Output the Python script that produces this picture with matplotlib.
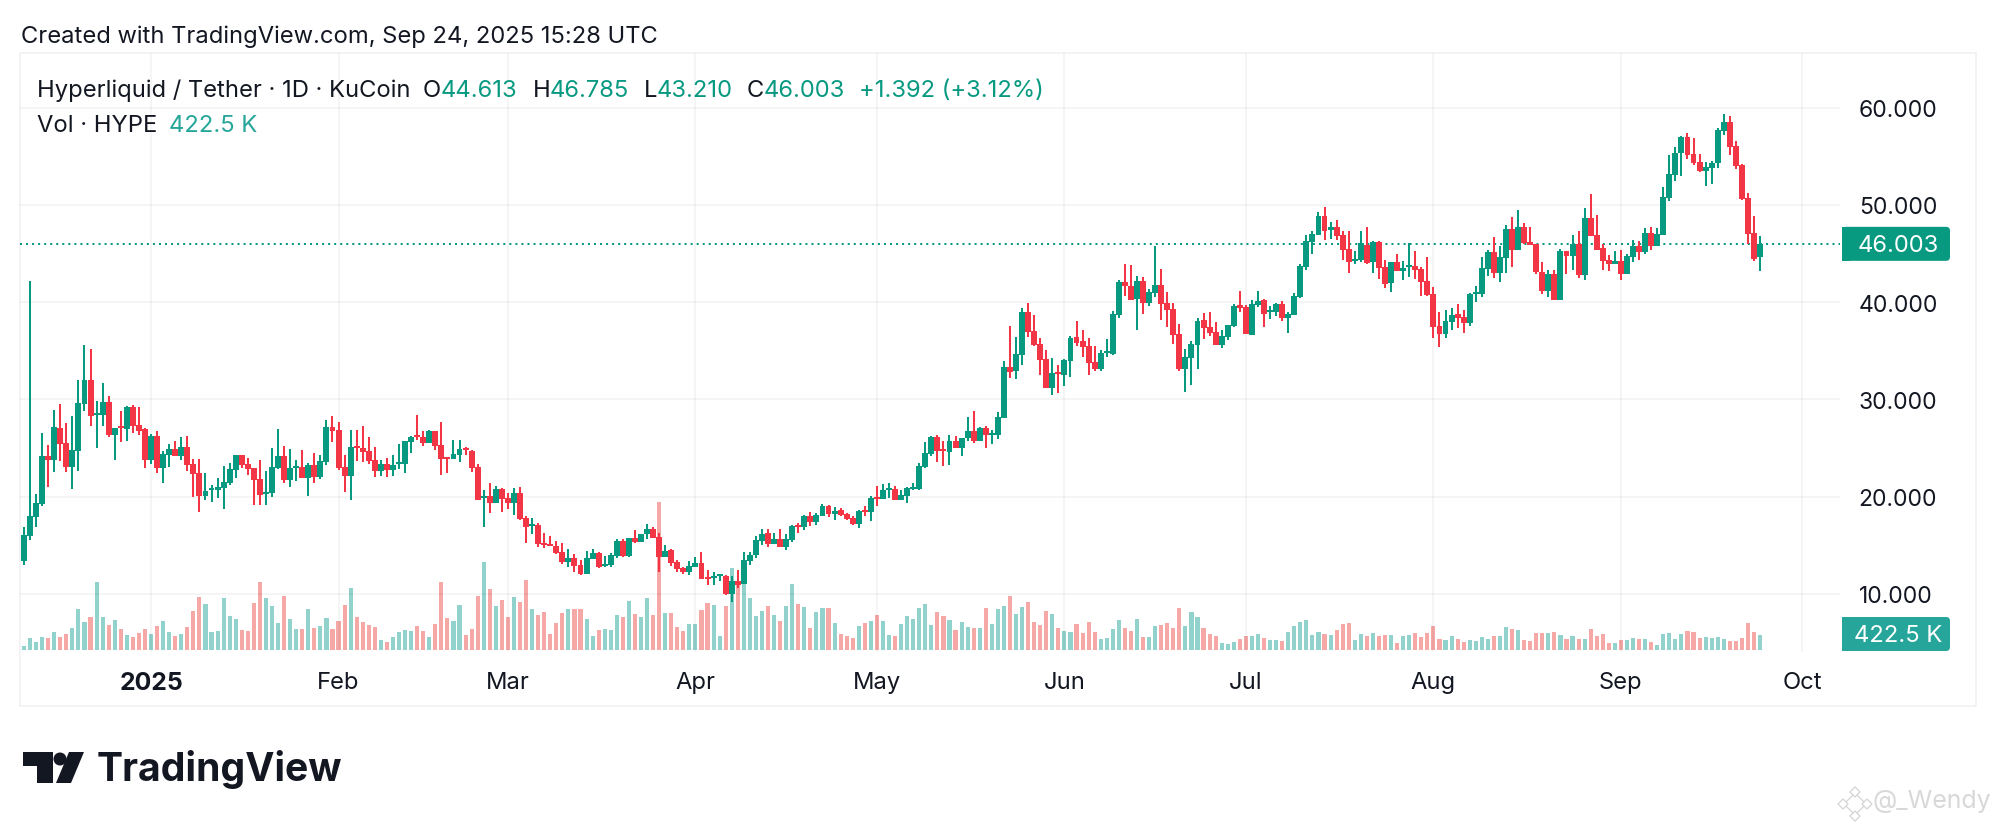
import numpy as np
import pandas as pd
import matplotlib
matplotlib.use("Agg")
import matplotlib.pyplot as plt
import matplotlib.dates as mdates
from matplotlib.patches import FancyBboxPatch, Polygon, Circle, Rectangle

opens = [13.43,16.0,17.95,19.3,24.2,23.8,27.1,25.5,23.05,24.7,
29.5,32.0,28.4,28.4,29.7,26.35,27.27,27.0,29.2,27.4,
26.96,23.8,26.2,22.95,24.3,24.9,24.2,25.1,23.35,22.45,
20.1,20.7,20.7,20.9,21.4,22.75,24.3,23.35,22.95,21.8,
20.3,20.4,22.95,24.2,21.7,22.95,23.05,21.9,23.25,22.0,
23.6,27.2,26.85,23.05,22.15,25.2,25.0,24.7,23.8,22.65,
23.35,22.75,23.35,23.35,25.6,26.35,26.15,25.5,26.75,25.3,
24.1,23.9,24.3,25.0,24.7,23.05,19.9,20.1,19.35,20.8,
19.85,19.35,20.4,17.8,17.0,17.1,15.25,15.15,14.95,14.3,
13.3,13.7,13.0,12.05,13.6,14.2,12.9,13.0,13.9,15.45,
13.9,15.75,15.35,16.15,16.7,15.85,13.8,14.5,13.3,12.65,
12.25,12.8,13.2,11.75,11.65,11.85,11.85,10.0,11.35,11.05,
13.4,14.0,15.45,16.3,15.15,15.65,14.85,15.55,17.1,16.9,
18.0,17.4,18.0,19.05,18.2,18.65,18.2,17.8,17.2,18.65,
18.45,19.95,19.75,20.7,20.8,19.65,20.1,20.8,20.8,23.05,
24.4,26.15,24.9,24.6,25.7,25.0,26.05,26.75,25.75,27.05,
26.35,26.35,28.1,33.35,32.9,34.55,39.0,37.05,35.7,34.15,
31.2,32.8,32.5,33.95,36.4,36.0,35.5,33.85,33.15,34.8,
34.65,38.7,42.1,41.65,40.35,42.2,39.9,40.95,41.75,39.9,
39.3,36.7,33.15,34.25,35.6,38.15,37.45,36.95,35.6,36.4,
37.55,39.7,39.5,36.6,39.7,40.2,39.0,39.0,39.8,38.4,
38.7,40.55,43.6,46.2,46.9,48.85,47.45,47.75,46.9,45.45,
44.25,44.35,45.9,44.15,46.2,43.6,42.0,44.15,43.2,43.6,
43.7,43.4,42.2,40.85,37.55,36.75,38.0,38.8,38.45,37.85,
40.85,40.85,43.4,45.15,43.0,44.55,47.55,45.35,47.75,46.2,
46.0,43.15,41.2,42.9,40.25,45.3,44.75,46.0,42.8,48.65,
46.9,45.55,44.35,43.95,44.25,42.9,44.65,45.8,45.15,47.1,
45.8,46.9,50.7,53.1,55.35,57.0,55.25,54.4,53.5,53.8,
54.3,57.6,58.5,56.05,54.1,50.7,47.1,44.613]

closes = [16.07,18.0,19.36,24.2,23.8,27.2,25.4,23.05,24.8,29.64,
32.0,28.3,28.6,29.7,26.35,27.07,27.1,29.2,27.27,26.75,
23.8,26.2,22.95,24.4,24.9,24.2,25.1,23.3,22.3,20.1,
20.6,20.9,21.0,21.5,22.85,24.3,23.25,22.85,21.7,20.2,
20.5,23.05,24.2,21.7,22.95,23.15,21.9,23.25,22.0,23.7,
27.2,26.75,22.95,22.15,25.1,25.0,24.6,23.65,22.65,23.35,
22.75,23.25,23.55,25.7,26.15,26.15,25.5,26.75,25.2,23.9,
23.9,24.4,24.9,24.8,22.95,19.65,20.1,19.35,20.8,19.75,
19.35,20.4,17.7,16.9,17.2,15.15,15.05,14.95,14.2,13.3,
13.7,12.9,12.05,13.7,14.2,12.8,13.1,14.0,15.45,13.9,
15.75,15.35,16.15,16.7,15.75,13.8,14.4,13.2,12.55,12.25,
12.9,13.2,11.55,11.55,11.85,12.05,10.0,11.35,10.9,13.5,
14.0,15.55,16.15,15.15,15.65,14.85,15.65,17.0,16.9,18.0,
17.4,18.1,19.05,18.2,18.55,18.1,17.7,17.2,18.55,18.45,
19.85,19.75,20.7,20.9,19.65,20.2,20.9,21.0,23.15,24.5,
26.15,24.7,24.7,25.7,25.0,26.05,26.75,25.75,27.05,26.35,
26.55,28.2,33.35,32.85,34.65,39.0,36.95,35.6,34.05,31.2,
32.7,32.6,34.05,36.3,35.8,35.4,33.75,33.15,34.8,35.0,
38.8,42.1,41.65,40.2,42.2,39.9,41.05,41.75,39.8,39.2,
36.6,33.15,34.35,35.7,38.05,37.35,36.85,35.6,36.5,37.65,
39.6,39.4,36.7,39.8,40.1,38.8,39.2,39.8,38.4,38.8,
40.6,43.7,46.3,47.0,48.85,47.3,47.75,46.8,45.35,44.15,
44.45,46.1,44.05,46.2,43.5,41.9,44.15,43.2,43.5,43.8,
43.3,42.1,40.75,37.45,36.75,38.05,38.7,38.4,37.85,40.85,
41.05,43.5,45.15,43.0,44.65,47.55,45.35,47.75,46.1,45.9,
43.1,41.2,42.9,40.25,45.3,44.75,46.0,42.8,48.65,46.8,
45.35,44.25,43.95,44.25,42.9,44.75,45.8,45.15,47.1,45.8,
47.0,50.8,53.2,55.35,57.0,55.15,54.3,53.5,53.9,54.3,
57.7,58.5,55.95,54.0,50.6,47.0,44.45,46.003]

highs = [16.9,42.2,20.25,26.6,25.3,28.9,29.5,27.6,28.3,32.0,
35.6,35.2,29.8,31.7,30.4,27.1,28.8,29.3,29.4,29.2,
27.07,26.45,26.75,24.7,25.4,25.7,26.1,26.2,23.9,23.9,
22.45,21.2,21.9,23.15,23.5,24.3,24.3,24.0,22.95,23.8,
22.65,25.0,27.0,25.2,24.9,23.8,24.8,23.5,24.5,24.3,
27.9,28.3,27.7,24.3,26.85,26.85,27.3,26.15,25.1,23.8,
24.0,24.3,25.4,25.7,26.25,28.4,26.75,26.85,26.75,27.7,
24.1,25.85,25.85,25.1,24.8,23.35,20.7,21.4,21.1,20.9,
20.4,20.9,21.0,18.0,17.8,17.3,16.3,16.0,15.45,15.25,
14.6,14.1,13.5,14.4,14.6,14.3,13.9,14.2,15.65,15.65,
15.75,16.6,16.15,17.2,16.9,16.3,15.05,14.6,13.5,12.8,
13.4,13.8,14.3,12.45,12.25,12.05,11.95,11.85,12.45,14.3,
14.3,16.0,16.7,16.7,16.3,16.7,16.15,17.1,17.3,18.1,
18.4,18.3,19.25,19.15,18.95,18.85,18.3,18.0,18.65,19.05,
20.1,21.1,21.3,21.4,21.1,20.7,21.0,21.4,23.45,25.6,
26.25,26.35,25.7,26.35,26.25,26.05,28.2,28.8,27.15,27.25,
26.85,28.7,33.95,37.55,36.4,39.4,39.9,38.7,36.3,35.1,
34.25,33.55,34.15,36.5,38.05,37.15,36.3,35.5,35.1,36.2,
39.1,42.3,43.9,43.8,42.7,42.6,41.35,45.8,43.4,41.05,
39.9,37.75,35.2,36.0,38.4,38.9,39.0,38.0,37.15,37.65,
39.8,41.15,39.7,40.2,41.15,40.3,39.6,39.9,40.1,39.0,
40.95,43.95,46.9,47.3,49.3,49.8,48.25,48.45,47.3,47.3,
45.25,47.3,47.75,46.3,46.3,44.35,44.15,44.95,44.25,46.1,
45.25,43.6,44.65,41.55,39.0,39.2,39.4,39.8,39.2,40.95,
41.65,44.65,45.35,46.7,45.8,47.95,48.75,49.5,48.15,47.75,
46.0,44.1,43.3,43.3,45.5,45.3,46.9,47.3,49.7,51.1,
48.95,46.0,44.85,45.3,45.35,44.95,46.4,46.3,47.6,47.75,
47.6,51.85,55.15,55.95,57.1,57.4,56.9,55.25,54.4,54.5,
57.9,59.35,59.15,56.55,54.2,51.2,48.85,46.785]

lows = [13.0,15.6,16.9,19.0,21.0,22.5,23.7,22.5,20.8,22.6,
28.8,27.3,25.0,27.3,26.1,23.8,25.6,25.7,26.55,26.35,
22.95,23.4,22.45,21.4,23.05,24.2,23.8,22.65,20.0,18.4,
19.65,19.45,19.9,18.75,21.2,21.9,22.95,22.25,19.15,19.15,
19.15,20.0,22.85,21.4,21.0,21.6,21.9,20.1,21.4,21.8,
23.25,25.6,22.75,20.5,19.65,23.65,23.55,23.35,22.05,22.15,
22.05,22.15,22.85,22.45,24.5,25.85,25.2,25.5,24.8,22.25,
22.45,23.9,23.55,24.3,22.55,19.65,16.9,18.3,19.35,18.45,
18.75,18.1,17.6,15.25,16.15,14.85,14.75,14.95,14.1,13.1,
12.8,12.25,11.95,12.05,13.6,12.7,12.8,12.8,13.7,13.8,
13.8,15.25,15.35,15.65,15.75,12.25,13.8,12.9,12.25,12.05,
11.95,12.8,11.55,10.95,10.95,11.35,9.9,9.2,10.6,11.05,
13.0,13.7,15.05,14.85,15.15,14.85,14.5,15.35,16.3,16.6,
17.0,17.1,18.0,17.9,17.6,18.0,17.6,17.1,16.8,18.0,
17.5,19.05,19.75,19.85,19.65,19.65,19.35,20.7,20.7,22.95,
24.2,23.55,23.15,23.25,25.0,24.2,25.75,25.5,25.75,25.0,
25.4,25.95,28.1,32.2,32.1,33.55,36.4,35.5,32.5,31.2,
30.45,30.65,31.4,32.3,35.5,34.35,32.5,32.95,32.95,34.35,
34.55,38.4,40.6,40.2,37.15,38.8,39.6,40.55,38.15,37.45,
35.7,32.95,30.75,31.5,33.15,36.2,36.5,35.6,35.3,36.1,
37.45,39.0,36.7,36.6,39.5,37.45,38.3,38.6,38.05,36.85,
38.7,40.45,43.3,45.0,46.9,46.4,46.5,46.4,44.35,43.0,
43.95,44.15,43.95,43.0,42.4,41.45,41.05,43.2,42.3,42.6,
42.4,40.65,40.65,36.3,35.4,36.3,37.15,37.35,36.85,37.55,
40.0,40.55,42.7,42.5,42.1,43.0,43.6,45.35,46.0,45.9,
42.9,40.85,40.55,40.25,40.25,42.9,43.3,42.5,42.3,46.8,
45.35,43.3,43.2,43.95,42.3,42.9,44.15,44.35,44.95,45.35,
45.8,46.9,50.4,52.45,53.0,54.7,54.1,53.4,51.95,52.15,
53.8,57.2,55.15,53.7,50.5,46.0,44.25,43.21]

volumes_k = [113,338,225,366,338,507,366,451,620,1155,
789,930,1916,930,704,845,592,423,366,479,
592,451,676,817,507,394,451,648,1099,1493,
1296,507,535,1465,958,873,563,535,1324,1916,
1465,1239,761,1521,873,592,592,1155,620,676,
901,592,817,1268,1747,930,789,704,648,282,
225,366,507,563,535,676,535,366,732,1916,
901,817,1268,423,592,1521,2479,1718,1239,1408,
930,1493,1352,1972,1155,986,1070,451,761,1042,
1155,1155,1155,873,394,563,592,563,986,930,
1380,1014,930,1465,986,4169,1042,1042,648,535,
732,732,1127,1324,1268,394,1239,2310,1878,1878,
1465,958,1099,1239,986,817,1239,1859,1296,1211,
620,1070,1183,1183,761,451,394,338,676,761,
817,986,817,423,394,732,958,873,1183,1296,
704,1070,958,845,563,789,648,620,620,1183,
732,1155,1239,1521,1014,1211,1352,789,704,1099,
1014,620,535,507,732,479,789,507,310,338,
592,845,620,535,873,366,366,676,704,761,
620,1183,676,1070,930,620,451,394,197,169,
225,310,394,394,451,338,282,282,254,507,
676,789,845,423,507,451,423,563,732,761,
282,451,394,479,394,423,423,197,394,423,
479,366,479,676,310,282,394,310,225,282,
254,366,310,394,394,648,592,563,282,254,
479,479,479,507,423,310,394,310,310,592,
394,451,197,197,282,282,338,310,310,225,
141,451,479,310,451,535,507,338,366,338,
366,310,254,254,338,761,507,422.5]

start_date = "2024-12-11"
month_ticks = ["2025-01-01","2025-02-01","2025-03-01","2025-04-01","2025-05-01",
               "2025-06-01","2025-07-01","2025-08-01","2025-09-01","2025-10-01"]
month_labels = ["2025","Feb","Mar","Apr","May","Jun","Jul","Aug","Sep","Oct"]
price_ticks = [10,20,30,40,50,60]

assert len(opens)==len(closes)==len(highs)==len(lows)==len(volumes_k)==288

W,H = 1996,828
FONT = "Inter"
plt.rcParams["font.family"] = [FONT,"DejaVu Sans"]
GREEN,RED = "#089981","#F23645"
VG,VR = "#26a69a","#ef5350"
DARK = "#131722"
FS = 16.5
FS_T = 17.1

fig = plt.figure(figsize=(W/100,H/100),dpi=100,facecolor="white")
L,R,T,B = 20,1840,54,653
rect = [L/W,1-B/H,(R-L)/W,(B-T)/H]

base = fig.add_axes([0,0,1,1],zorder=0)
base.set_xlim(0,W); base.set_ylim(H,0); base.axis("off")
base.add_patch(Rectangle((20,54),1956,653,fill=False,ec="#f0f0f0",lw=1.1))

dates = pd.date_range(start_date,periods=len(opens),freq="D")
x = mdates.date2num(dates)
o,c,hi,lo,v = map(np.array,(opens,closes,highs,lows,volumes_k))
up = c>=o

axv = fig.add_axes(rect,zorder=1); axv.patch.set_alpha(0)
ax = fig.add_axes(rect,zorder=2); ax.patch.set_alpha(0)
PX = 6.049
xlim = (x[0]-4/PX, x[0]+(R-24)/PX)
for a in (ax,axv):
    a.set_xlim(*xlim)
    for s in a.spines.values(): s.set_visible(False)

ax.set_ylim(10-(B-595)/9.726, 60+(108.7-T)/9.726)
K_PER_PX = 28.1
axv.set_ylim(-2*K_PER_PX,(B-T-2)*K_PER_PX)
axv.set_yticks([]); axv.set_xticks([])

axv.bar(x[up],v[up],width=0.68,color=VG,alpha=.5,lw=0)
axv.bar(x[~up],v[~up],width=0.68,color=VR,alpha=.5,lw=0)

wick_c = np.where(up,GREEN,RED)
ax.vlines(x,lo,hi,colors=wick_c,lw=1.45,zorder=3)
ax.bar(x,np.abs(c-o),bottom=np.minimum(o,c),width=0.98,color=wick_c,lw=0,zorder=4)

ax.axhline(closes[-1],color=GREEN,lw=1.45,ls=(0,(1,2)),zorder=2)

ax.set_xticks(mdates.date2num(pd.to_datetime(month_ticks)))
ax.set_xticklabels(month_labels)
ax.set_yticks(price_ticks)
ax.set_yticklabels([f"{p:.3f}" for p in price_ticks])
ax.yaxis.tick_right()
ax.tick_params(axis="both",length=0,labelcolor=DARK)
ax.tick_params(axis="y",pad=13.5,labelsize=FS)
ax.tick_params(axis="x",pad=14,labelsize=FS_T)
ax.get_xticklabels()[0].set_fontweight("bold")
ax.get_xticklabels()[0].set_fontsize(17.8)
ax.grid(True,color="black",alpha=.05,lw=1.1)
ax.set_axisbelow(True)

over = fig.add_axes([0,0,1,1],zorder=3)
over.set_xlim(0,W); over.set_ylim(H,0); over.axis("off"); over.patch.set_alpha(0)

def txt(px,py,s,color=DARK,size=FS_T,**kw):
    kw.setdefault("va","center"); kw.setdefault("ha","left")
    over.text(px,py,s,color=color,fontsize=size,**kw)

def tag(y0,y1,color,s):
    over.add_patch(FancyBboxPatch((1842,y0),108,y1-y0,boxstyle="round,pad=0,rounding_size=4",
                   fc=color,ec="none",lw=0))
    over.add_patch(Rectangle((1842,y0),8,y1-y0,fc=color,ec="none",lw=0))
    txt(1898,(y0+y1)/2+1,s,color="white",ha="center",size=FS_T)

ypx = H-ax.transData.transform((x[-1],closes[-1]))[1]
tag(ypx-17,ypx+17,GREEN,f"{closes[-1]:.3f}")
base_v = H-axv.transData.transform((x[-1],0))[1]
tag(base_v-33,base_v+1,VG,f"{volumes_k[-1]:.1f} K")

txt(21,37,"Created with TradingView.com, Sep 24, 2025 15:28 UTC")
txt(37,91,"Hyperliquid / Tether · 1D · KuCoin")
for px,s,col,sz in [(423,"O",DARK,FS_T),(441,"44.613",GREEN,FS_T),(533,"H",DARK,FS_T),(550,"46.785",GREEN,FS_T),
                 (644,"L",DARK,FS_T),(657,"43.210",GREEN,FS_T),(747,"C",DARK,FS_T),(764,"46.003",GREEN,FS_T),
                 (859,"+1.392 (+3.12%)",GREEN,FS_T)]:
    txt(px,91,s,color=col,size=sz)
txt(37,126,"Vol · HYPE")
txt(169,126,"422.5 K",color=VG)

# TradingView mark and wordmark
K = "#131722"
over.add_patch(Polygon([(23,753),(53,753),(53,784),(37,784),(37,767),(23,767)],fc=K,ec="none"))
over.add_patch(Circle((60,760),6.5,fc=K,ec="none"))
over.add_patch(Polygon([(69,753),(84,753),(71,784),(56,784)],fc=K,ec="none"))
txt(97,770,"TradingView",color=K,size=28.2,fontweight="bold")

# watermark
wm = "#d4d4d4"
for cx,cy,r in [(1855,805,11),(1855,793,5),(1855,817,5),(1843,805,5),(1867,805,5)]:
    over.add_patch(Polygon([(cx-r,cy),(cx,cy-r),(cx+r,cy),(cx,cy+r)],fc="white",ec=wm,lw=.9))
txt(1873,802,"@_Wendy",color=wm,size=18,alpha=.9)

fig.savefig("out.png",dpi=100,facecolor="white")
